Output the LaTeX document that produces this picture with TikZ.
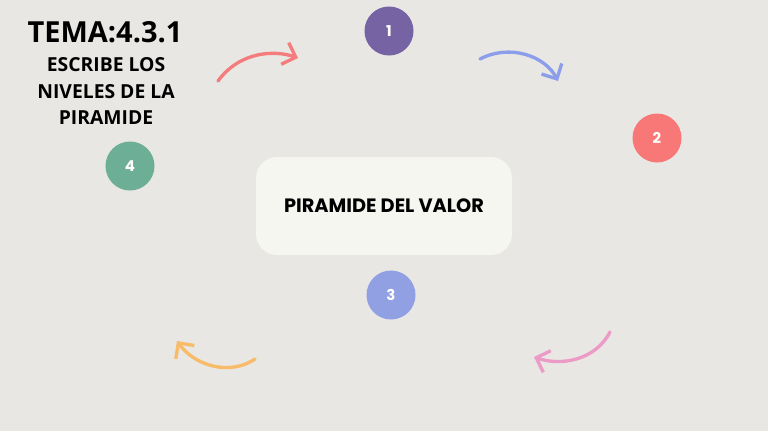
\documentclass[tikz,border=0pt]{standalone}
\usepackage{fontspec}
\setmainfont{Open Sans}
\newfontfamily\manofont{Poppins}
\usetikzlibrary{arrows.meta}
\definecolor{papel}{HTML}{E8E7E4}
\definecolor{caja}{HTML}{F6F6F1}
\definecolor{morado}{HTML}{7563A3}
\definecolor{salmon}{HTML}{F87878}
\definecolor{azul}{HTML}{919FE3}
\definecolor{verde}{HTML}{6DAE96}
\definecolor{rojo}{HTML}{F47C7C}
\definecolor{celeste}{HTML}{8C9EEA}
\definecolor{rosa}{HTML}{EC9AC6}
\definecolor{naranja}{HTML}{F8BB6A}

\begin{document}
\begin{tikzpicture}[
  num/.style={circle, minimum size=0.98cm, inner sep=0pt, text=white, font=\manofont\bfseries\fontsize{8.5}{10}\selectfont},
  flecha/.style={line width=1.9pt, line cap=round, -{Straight Barb[length=6.5pt, width=13pt, line width=1.9pt]}}]
\fill[papel] (0, 0) rectangle (15.36, 8.62);
\useasboundingbox (0, 0) rectangle (15.36, 8.62);
\node (tema) at (2.1, 7.98) {\bfseries\fontsize{16.5}{18}\selectfont TEMA:4.3.1};
\node[align=center, font=\bfseries\fontsize{11}{15}\selectfont] (sub) at (2.12, 6.8) {ESCRIBE LOS\\NIVELES DE LA\\PIRAMIDE};
\node[num, fill=morado] (n1) at (7.78, 8.0) {1};
\node[num, fill=salmon] (n2) at (13.14, 5.86) {2};
\node[num, fill=azul] (n3) at (7.82, 2.72) {3};
\node[num, fill=verde] (n4) at (2.6, 5.3) {4};
\node[fill=caja, rounded corners=12pt, minimum width=5.12cm, minimum height=1.96cm, font=\manofont\bfseries\fontsize{11}{13}\selectfont] (valor) at (7.68, 4.5) {PIRAMIDE DEL VALOR};
\coordinate (a1) at (4.36, 7.0);
\coordinate (b1) at (5.96, 7.46);
\coordinate (a2) at (9.6, 7.44);
\coordinate (b2) at (11.16, 7.0);
\coordinate (a3) at (12.2, 1.98);
\coordinate (b3) at (10.68, 1.48);
\coordinate (a4) at (5.1, 1.44);
\coordinate (b4) at (3.54, 1.8);
\draw[flecha, rojo] (a1) .. controls (4.8, 7.6) and (5.5, 7.62) .. (b1);
\draw[flecha, celeste] (a2) .. controls (10.2, 7.75) and (10.9, 7.5) .. (b2);
\draw[flecha, rosa] (a3) .. controls (11.9, 1.4) and (11.2, 1.3) .. (b3);
\draw[flecha, naranja] (a4) .. controls (4.6, 1.1) and (3.9, 1.3) .. (b4);
\end{tikzpicture}
\end{document}
